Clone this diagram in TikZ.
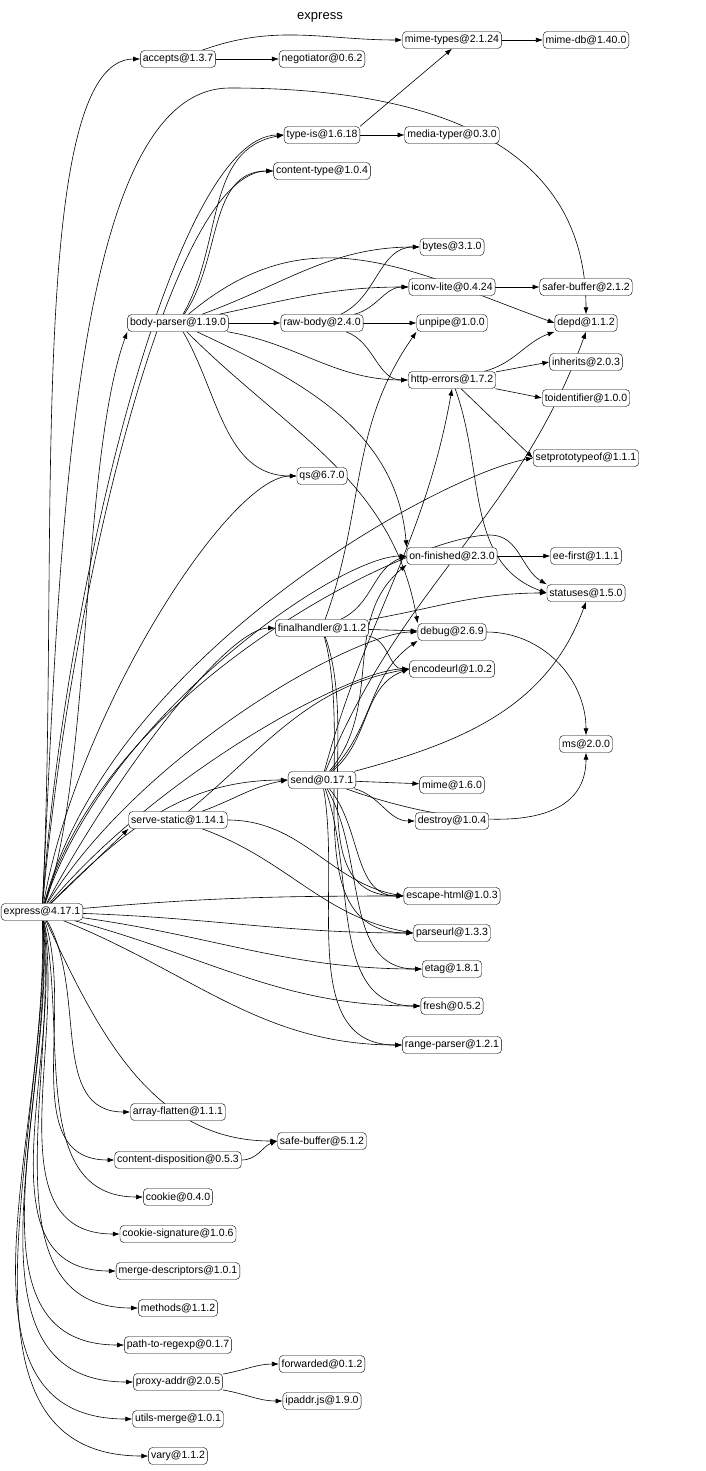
\documentclass[tikz,border=0pt]{standalone}
\usepackage{fontspec}
\setmainfont{Liberation Sans}
\usetikzlibrary{arrows.meta}
\pgfdeclarelayer{bg}
\pgfsetlayers{bg,main}
\begin{document}
\begin{tikzpicture}[x=1pt,y=1pt,
  n/.style={draw,rounded corners=4pt,inner sep=2.5pt,minimum height=17pt,font=\fontsize{10.5}{11}\selectfont,fill=white},
  e/.style={-{Latex[length=7pt,width=5pt]},line width=0.6pt},
  far/.style={out looseness=1,in looseness=0.35}]
\useasboundingbox (0,0) rectangle (705,-1471);
\node[font=\fontsize{13}{14}\selectfont] (title) at (320,-17) {express};
\node[n] (ex) at (42,-912) {express@4.17.1};
\node[n] (acc) at (178,-59) {accepts@1.3.7};
\node[n] (neg) at (322,-59) {negotiator@0.6.2};
\node[n] (mt) at (452,-40) {mime-types@2.1.24};
\node[n] (mdb) at (586,-40) {mime-db@1.40.0};
\node[n] (ti) at (322,-135) {type-is@1.6.18};
\node[n] (mty) at (452,-135) {media-typer@0.3.0};
\node[n] (ct) at (322,-171) {content-type@1.0.4};
\node[n] (by) at (452,-247) {bytes@3.1.0};
\node[n] (ic) at (452,-287) {iconv-lite@0.4.24};
\node[n] (sb) at (586,-287) {safer-buffer@2.1.2};
\node[n] (bp) at (178,-323) {body-parser@1.19.0};
\node[n] (rb) at (322,-323) {raw-body@2.4.0};
\node[n] (up) at (452,-323) {unpipe@1.0.0};
\node[n] (dp) at (586,-323) {depd@1.1.2};
\node[n] (he) at (452,-380) {http-errors@1.7.2};
\node[n] (inh) at (586,-362) {inherits@2.0.3};
\node[n] (tid) at (586,-398) {toidentifier@1.0.0};
\node[n] (spo) at (586,-458) {setprototypeof@1.1.1};
\node[n] (qs) at (322,-476) {qs@6.7.0};
\node[n] (of) at (452,-556) {on-finished@2.3.0};
\node[n] (ef) at (586,-556) {ee-first@1.1.1};
\node[n] (st) at (586,-593) {statuses@1.5.0};
\node[n] (fh) at (322,-628) {finalhandler@1.1.2};
\node[n] (db) at (452,-632) {debug@2.6.9};
\node[n] (eu) at (452,-669) {encodeurl@1.0.2};
\node[n] (ms) at (586,-744) {ms@2.0.0};
\node[n] (se) at (322,-780) {send@0.17.1};
\node[n] (mi) at (452,-785) {mime@1.6.0};
\node[n] (de) at (452,-821) {destroy@1.0.4};
\node[n] (ss) at (178,-820) {serve-static@1.14.1};
\node[n] (eh) at (452,-896) {escape-html@1.0.3};
\node[n] (pu) at (452,-933) {parseurl@1.3.3};
\node[n] (et) at (452,-969) {etag@1.8.1};
\node[n] (fr) at (452,-1006) {fresh@0.5.2};
\node[n] (rp) at (452,-1045) {range-parser@1.2.1};
\node[n] (af) at (178,-1112) {array-flatten@1.1.1};
\node[n] (sfb) at (322,-1141) {safe-buffer@5.1.2};
\node[n] (cd) at (178,-1160) {content-disposition@0.5.3};
\node[n] (ck) at (178,-1197) {cookie@0.4.0};
\node[n] (cs) at (178,-1234) {cookie-signature@1.0.6};
\node[n] (md) at (178,-1271) {merge-descriptors@1.0.1};
\node[n] (me) at (178,-1308) {methods@1.1.2};
\node[n] (pr) at (178,-1345) {path-to-regexp@0.1.7};
\node[n] (pa) at (178,-1382) {proxy-addr@2.0.5};
\node[n] (fw) at (322,-1364) {forwarded@0.1.2};
\node[n] (ip) at (322,-1401) {ipaddr.js@1.9.0};
\node[n] (um) at (178,-1419) {utils-merge@1.0.1};
\node[n] (va) at (178,-1456) {vary@1.1.2};
\coordinate (c1) at (230,-88);
\coordinate (c2) at (490,-535);
\begin{pgfonlayer}{bg}
% express edges
\draw[e,far] (ex) to[out=87,in=180] (acc.west);
\draw[e,far] (ex) to[out=86,in=180] (ti.west);
\draw[e,far] (ex) to[out=85,in=180] (ct.west);
\draw[e] (ex) to[out=87,in=180,out looseness=1,in looseness=0.5] (c1) to[out=0,in=90,looseness=1.1] (dp.north);
\draw[e] (ex) to[out=70,in=250,looseness=0.6] (bp.south west);
\draw[e,far] (ex) to[out=80,in=180] (qs.west);
\draw[e,far] (ex) to[out=75,in=190] (spo.west);
\draw[e,far] (ex) to[out=72,in=180] (of.west);
\draw[e,far] (ex) to[out=74,in=180] (c2) to[out=0,in=150,looseness=1] (st.north west);
\draw[e,far] (ex) to[out=62,in=180] (fh.west);
\draw[e,far] (ex) to[out=58,in=180] (db.west);
\draw[e,far] (ex) to[out=50,in=180] (eu.west);
\draw[e] (ex) to[out=45,in=180] (se.west);
\draw[e] (ex) -- (ss.south west);
\draw[e] (ex) to[out=5,in=180] (eh.west);
\draw[e] (ex) to[out=-2,in=180] (pu.west);
\draw[e] (ex) to[out=-8,in=180] (et.west);
\draw[e] (ex) to[out=-15,in=180] (fr.west);
\draw[e] (ex) to[out=-22,in=180] (rp.west);
\draw[e] (ex) to[out=-60,in=180] (af.west);
\draw[e] (ex) to[out=-65,in=180] (sfb.west);
\draw[e] (ex) to[out=-72,in=180] (cd.west);
\draw[e] (ex) to[out=-78,in=180] (ck.west);
\draw[e] (ex) to[out=-80,in=180] (cs.west);
\draw[e] (ex) to[out=-82,in=180] (md.west);
\draw[e] (ex) to[out=-84,in=180] (me.west);
\draw[e] (ex) to[out=-85,in=180] (pr.west);
\draw[e] (ex) to[out=-86,in=180] (pa.west);
\draw[e] (ex) to[out=-87,in=180] (um.west);
\draw[e] (ex) to[out=-88,in=180] (va.west);
% others
\draw[e] (acc) to[out=20,in=180] (mt.west);
\draw[e] (acc) -- (neg);
\draw[e] (mt) -- (mdb);
\draw[e] (ti) -- (mty);
\draw[e] (ti.north east) -- (mt.south);
\draw[e] (bp) to[out=60,in=190] (ti.west);
\draw[e] (bp) to[out=55,in=180] (ct.west);
\draw[e] (bp) to[out=20,in=180] (by.west);
\draw[e] (bp) to[out=12,in=180] (ic.west);
\draw[e] (bp) -- (rb);
\draw[e] (bp) to[out=40,in=160,looseness=1.1] (dp.west);
\draw[e] (bp) to[out=-10,in=180] (he.west);
\draw[e] (bp) to[out=-60,in=180] (qs.west);
\draw[e] (bp) to[out=-45,in=100] (db.north west);
\draw[e] (bp) to[out=-25,in=95] (of.north west);
\draw[e] (rb) to[out=25,in=180] (by.west);
\draw[e] (rb) to[out=15,in=180] (ic.west);
\draw[e] (rb) -- (up);
\draw[e] (rb) to[out=-20,in=180] (he.west);
\draw[e] (ic) -- (sb);
\draw[e] (he) to[out=15,in=200] (dp.south west);
\draw[e] (he) -- (inh.west);
\draw[e] (he) -- (tid.west);
\draw[e] (he) -- (spo.west);
\draw[e] (he) to[out=-70,in=160] (st.west);
\draw[e] (of) -- (ef);
\draw[e] (fh) to[out=70,in=235] (up.south west);
\draw[e] (fh) to[out=25,in=200] (of.west);
\draw[e] (fh) to[out=10,in=180] (st.west);
\draw[e] (fh) -- (db);
\draw[e] (fh) to[out=-10,in=180] (eu.west);
\draw[e] (fh) to[out=-70,in=180] (eh.west);
\draw[e] (fh) to[out=-75,in=180] (pu.west);
\draw[e] (db) to[out=0,in=90] (ms.north);
\draw[e] (se) to[out=75,in=260] (he.south);
\draw[e] (se) to[out=68,in=250] (dp.south);
\draw[e] (se) to[out=50,in=220] (of.south west);
\draw[e] (se) to[out=45,in=215] (db.south west);
\draw[e] (se) to[out=40,in=200] (eu.west);
\draw[e] (se) to[out=15,in=250] (st.south);
\draw[e] (se) -- (mi);
\draw[e] (se) to[out=-15,in=180] (de.west);
\draw[e] (se) to[out=-20,in=270] (ms.south);
\draw[e] (se) to[out=-50,in=180] (eh.west);
\draw[e] (se) to[out=-60,in=180] (et.west);
\draw[e] (se) to[out=-70,in=180] (fr.west);
\draw[e] (se) to[out=-80,in=180] (rp.west);
\draw[e] (ss) to[out=20,in=190] (se.west);
\draw[e] (ss) to[out=40,in=190] (eu.west);
\draw[e] (ss.east) to[out=0,in=170] (eh.west);
\draw[e] (ss) to[out=-20,in=170] (pu.west);
\draw[e] (cd) to[out=0,in=200] (sfb.west);
\draw[e] (pa) to[out=10,in=180] (fw.west);
\draw[e] (pa) to[out=-10,in=180] (ip.west);
\end{pgfonlayer}
\end{tikzpicture}
\end{document}
